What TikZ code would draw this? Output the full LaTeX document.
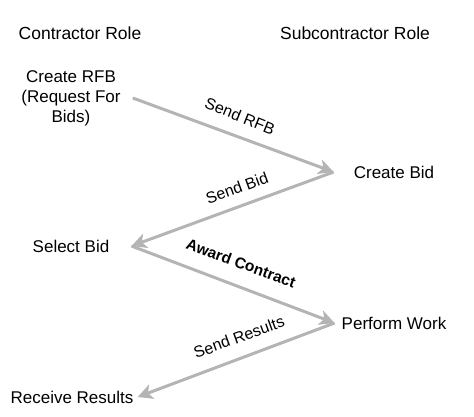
\documentclass[tikz,border=0pt]{standalone}
\usepackage{fontspec}
\setmainfont{Liberation Sans}
\usetikzlibrary{arrows.meta}
\definecolor{flowgray}{HTML}{B4B4B4}

\begin{document}
\begin{tikzpicture}[x=1pt, y=-1pt,
  role/.style={font=\fontsize{17.5}{20}\selectfont, inner sep=0pt},
  task/.style={font=\fontsize{17}{20}\selectfont, inner sep=0pt, align=center},
  msg/.style={font=\fontsize{16}{18}\selectfont, inner sep=0pt},
  award/.style={font=\fontsize{15.5}{18}\selectfont\bfseries, inner sep=0pt},
  flow/.style={line width=3pt, flowgray, -{Stealth[length=15pt, width=15pt, inset=4pt]}},
]

\useasboundingbox (0,0) rectangle (474,416);

\node[role] (contractor) at (80, 33) {Contractor Role};
\node[role] (subcontractor) at (355, 33) {Subcontractor Role};

\node[task] (rfb) at (71, 98) {Create RFB\\(Request For\\Bids)};
\node[task] (cbid) at (394, 172) {Create Bid};
\node[task] (sbid) at (71, 246) {Select Bid};
\node[task] (work) at (394, 323) {Perform Work};
\node[task] (results) at (72, 397) {Receive Results};

\draw[flow] ([xshift=12pt]rfb.east) -- ([xshift=-20pt]cbid.west);
\draw[flow] ([xshift=-20pt]cbid.west) -- ([xshift=22pt]sbid.east);
\draw[flow] ([xshift=22pt]sbid.east) -- ([xshift=-7pt]work.west);
\draw[flow] ([xshift=-7pt]work.west) -- ([xshift=4pt]results.east);

\node[msg, rotate=-22] (sendrfb) at (240, 116) {Send RFB};
\node[msg, rotate=20] (sendbid) at (237, 188) {Send Bid};
\node[award, rotate=-20] (contract) at (241, 263) {Award Contract};
\node[msg, rotate=20] (sendres) at (239, 337) {Send Results};

\end{tikzpicture}
\end{document}
